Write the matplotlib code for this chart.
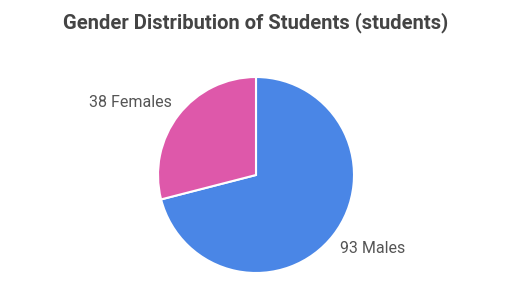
import matplotlib.pyplot as plt

plt.rcParams['font.family'] = ['Roboto', 'DejaVu Sans']

genders = ['Males', 'Females']
counts = [93, 38]
colors = ['#4a86e6', '#de58aa']

labels = [f'{c} {g}' for g, c in zip(genders, counts)]

fig = plt.figure(figsize=(5.12, 2.86), dpi=100)
# pie centred near (256, 175) px, radius ~98 px
r_px = 98
ax = fig.add_axes([(256 - r_px) / 512, (286 - 175 - r_px) / 286,
                   2 * r_px / 512, 2 * r_px / 286])
wedges, texts = ax.pie(counts, labels=labels, colors=colors, startangle=90,
                       counterclock=False, labeldistance=1.12,
                       wedgeprops=dict(edgecolor='white', linewidth=1.5),
                       textprops=dict(fontsize=11.5, color='#555555'))
# label placement similar to the original chart
label_pos = {'Males': (0.86, -0.75), 'Females': (-0.86, 0.74)}
for t, g in zip(texts, genders):
    t.set_position(label_pos[g])
    t.set_va('center')
    t.set_clip_on(False)
ax.set_xlim(-1, 1)
ax.set_ylim(-1, 1)

fig.text(0.5, 1 - 23 / 286, 'Gender Distribution of Students (students)',
         ha='center', va='center', fontsize=14.5, fontweight='bold', color='#444444')

fig.savefig('out.png', dpi=100)
